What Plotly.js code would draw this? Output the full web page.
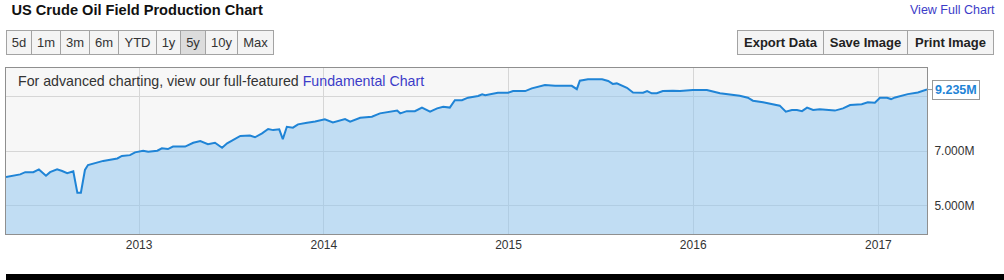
<!DOCTYPE html>
<html>
<head>
<meta charset="utf-8">
<script src="https://cdn.plot.ly/plotly-3.0.1.min.js"></script>
<style>
  html, body { margin:0; padding:0; width:1004px; height:280px; overflow:hidden; background:#fff; font-family:"Liberation Sans", Arial, sans-serif; }
  #chart { position:absolute; left:0; top:0; width:1004px; height:280px; }
  .btn { position:absolute; top:30px; height:25px; box-sizing:border-box; border:1px solid #a3a3a3; background:#f4f4f4; color:#333; font-size:13px; line-height:23px; text-align:center; }
  .btn.sel { background:#dcdcdc; }
  .btn.b { font-weight:bold; color:#222; }
  #bar { position:absolute; left:6px; right:0; top:274px; height:6px; background:#000; }
</style>
</head>
<body>
<div id="chart"></div>
<div id="buttons"></div>
<div id="bar"></div>
<script>
// ---- data ----
const dates = ['2012-04-13','2012-05-11','2012-05-21','2012-06-06','2012-06-17','2012-07-01','2012-07-09','2012-07-23','2012-08-02','2012-08-12','2012-08-24','2012-09-01','2012-09-08','2012-09-16','2012-09-22','2012-10-06','2012-10-22','2012-11-19','2012-11-28','2012-12-14','2012-12-24',
'2013-01-09','2013-01-19','2013-02-06','2013-02-15','2013-02-27','2013-03-09','2013-04-02','2013-04-18','2013-05-02','2013-05-17','2013-05-31','2013-06-14','2013-06-24','2013-07-06','2013-07-20','2013-08-08','2013-08-18','2013-09-01','2013-09-13','2013-09-23','2013-10-05','2013-10-12','2013-10-20','2013-11-01','2013-11-11','2013-11-29','2013-12-15',
'2014-01-03','2014-01-19','2014-02-12','2014-02-22','2014-03-14','2014-04-06','2014-04-22','2014-05-12','2014-05-26','2014-06-01','2014-06-14','2014-06-30','2014-07-14','2014-07-30','2014-08-13','2014-08-25','2014-09-07','2014-09-17','2014-10-01','2014-10-13','2014-11-02','2014-11-10','2014-11-16','2014-12-11','2014-12-31',
'2015-01-10','2015-02-03','2015-02-16','2015-03-14','2015-04-03','2015-05-06','2015-05-16','2015-05-22','2015-06-07','2015-07-05','2015-07-17','2015-07-26','2015-08-03','2015-08-12','2015-08-23','2015-09-04','2015-09-24','2015-10-02','2015-10-11','2015-10-21','2015-11-02','2015-11-22','2015-12-06','2015-12-31',
'2016-01-28','2016-02-23','2016-03-14','2016-04-02','2016-04-18','2016-04-28','2016-05-18','2016-06-07','2016-06-20','2016-07-02','2016-07-14','2016-07-24','2016-08-03','2016-08-13','2016-08-25','2016-09-07','2016-09-23','2016-10-07','2016-10-23','2016-11-06','2016-11-29','2016-12-11','2016-12-25',
'2017-01-04','2017-01-18','2017-01-26','2017-02-03','2017-02-28','2017-03-20','2017-04-07'];
const production = [6.05,6.15,6.23,6.23,6.33,6.10,6.23,6.33,6.27,6.19,6.26,5.48,5.48,6.31,6.49,6.57,6.64,6.73,6.82,6.85,6.95,
7.01,6.97,7.01,7.10,7.07,7.16,7.16,7.30,7.36,7.25,7.30,7.12,7.28,7.40,7.55,7.56,7.50,7.64,7.80,7.76,7.79,7.43,7.88,7.85,7.97,8.03,8.07,
8.15,8.04,8.16,8.07,8.21,8.25,8.37,8.43,8.47,8.37,8.45,8.45,8.58,8.43,8.55,8.61,8.58,8.85,8.85,8.94,9.00,9.06,9.03,9.12,9.12,
9.18,9.18,9.28,9.40,9.37,9.37,9.25,9.56,9.61,9.61,9.55,9.44,9.46,9.40,9.30,9.13,9.12,9.18,9.10,9.10,9.18,9.19,9.18,9.22,
9.22,9.10,9.06,9.01,8.94,8.83,8.77,8.71,8.65,8.43,8.49,8.49,8.45,8.58,8.49,8.52,8.49,8.47,8.55,8.67,8.70,8.77,8.76,
8.94,8.94,8.89,8.95,9.07,9.13,9.235];
const xTickVals = ['2013-01-01','2014-01-01','2015-01-01','2016-01-01','2017-01-01'];
const xTickText = ['2013','2014','2015','2016','2017'];
const yTickVals = [5, 7, 9];
const yTickText = ['5.000M', '7.000M', ''];   // the 9.000M label sits hidden behind the last-value box
const rangeButtons = ['5d','1m','3m','6m','YTD','1y','5y','10y','Max'];
const actionButtons = ['Export Data','Save Image','Print Image'];

// ---- buttons (page chrome) ----
const leftEdges = [6,31,60,89,118,156,180,205,237,273];
const rightEdges = [737,823,907,993];
const bc = document.getElementById('buttons');
rangeButtons.forEach((t,i)=>{
  const d=document.createElement('div');
  d.className='btn'+(t==='5y'?' sel':'');
  d.style.left=leftEdges[i]+'px';
  d.style.width=(leftEdges[i+1]-leftEdges[i]+1)+'px';
  d.textContent=t; bc.appendChild(d);
});
actionButtons.forEach((t,i)=>{
  const d=document.createElement('div');
  d.className='btn b';
  d.style.left=rightEdges[i]+'px';
  d.style.width=(rightEdges[i+1]-rightEdges[i]+1)+'px';
  d.textContent=t; bc.appendChild(d);
});

// ---- chart ----
const font = '"Liberation Sans", Arial, sans-serif';
const last = production.length-1;
const trace = {
  x: dates, y: production, type:'scatter', mode:'lines',
  line:{color:'#1f84d6', width:2},
  fill:'tozeroy', fillcolor:'rgba(140,196,240,0.5)',
  hoverinfo:'skip'
};
const layout = {
  width:1004, height:280,
  margin:{l:6, r:77, t:68, b:46},
  paper_bgcolor:'#ffffff', plot_bgcolor:'#f7f7f7',
  showlegend:false,
  font:{family:font, size:12, color:'#333'},
  title:{text:'<b>US Crude Oil Field Production Chart</b>', x:6/1004, xanchor:'left', xref:'paper', y:1-10/280, yanchor:'middle', yref:'container', font:{family:font, size:14.6, color:'#111'}},
  xaxis:{type:'date', range:['2012-04-13','2017-04-07'], tickvals:xTickVals, ticktext:xTickText,
    showgrid:true, gridcolor:'#d6d6d6', gridwidth:1, showline:true, linecolor:'#8f8f8f', linewidth:1, mirror:true,
    ticks:'', tickfont:{family:font, size:12, color:'#333'}, zeroline:false, fixedrange:true},
  yaxis:{range:[3.98,10.02], side:'right', tickmode:'array', tickvals:yTickVals, ticktext:yTickText,
    showgrid:true, gridcolor:'#d6d6d6', gridwidth:1, showline:true, linecolor:'#8f8f8f', linewidth:1, mirror:true,
    ticks:'outside', ticklen:4, tickcolor:'rgba(0,0,0,0)', tickfont:{family:font, size:12, color:'#333'}, zeroline:false, fixedrange:true},
  annotations:[
    {xref:'paper', yref:'paper', x:10/921, y:1-13/166, xanchor:'left', yanchor:'middle', showarrow:false,
     text:'For advanced charting, view our full-featured <span style="color:#3c3cc8">Fundamental Chart</span>',
     font:{family:font, size:14.2, color:'#333'}},
    {xref:'paper', yref:'paper', x:(997-6)/921, y:1+(68-10)/166, xanchor:'right', yanchor:'middle', showarrow:false,
     text:'View Full Chart', font:{family:font, size:12.5, color:'#3c3cc8'}},
    {x:dates[last], y:production[last], xref:'x', yref:'y', text:'<b>'+production[last].toFixed(3)+'M</b>',
     showarrow:true, arrowhead:0, arrowwidth:1, arrowcolor:'#999', ax:29, ay:0, standoff:0,
     bgcolor:'#ffffff', bordercolor:'#999', borderwidth:1, borderpad:2,
     font:{family:font, size:12.5, color:'#1f84d6'}}
  ]
};
Plotly.newPlot('chart',[trace],layout,{displayModeBar:false, staticPlot:true});
</script>
</body>
</html>
